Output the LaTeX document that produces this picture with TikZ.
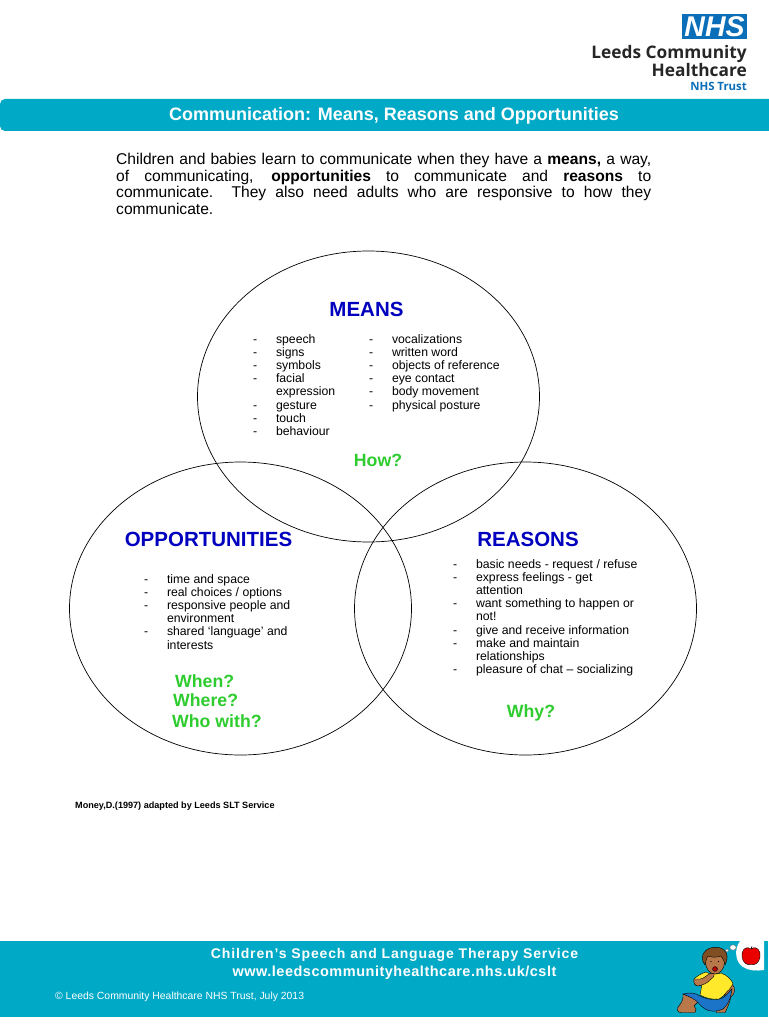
\documentclass[tikz,border=0pt]{standalone}
\usepackage{fontspec}
\setmainfont{Liberation Sans}
\newfontfamily\logofont{Open Sans}
\definecolor{teal}{HTML}{00A9C6}
\definecolor{nhsblue}{HTML}{0A6EB8}
\definecolor{headblue}{HTML}{0000BE}
\definecolor{qgreen}{HTML}{2ECC2E}
\definecolor{skin}{HTML}{B8784A}
\definecolor{hairc}{HTML}{7F4E22}
\definecolor{shirt}{HTML}{FFE92A}
\definecolor{shorts}{HTML}{1C74C8}
\tikzset{
  ring/.style={draw=black,line width=0.7pt,fill=none},
  band/.style={fill=teal,draw=none},
  listtxt/.style={anchor=base west,inner sep=0pt,outer sep=0pt,font=\fontsize{12.25}{13}\selectfont},
  headtxt/.style={anchor=base,inner sep=0pt,text=headblue,font=\fontsize{20.5}{22}\selectfont\bfseries},
  qtxt/.style={anchor=base,inner sep=0pt,text=qgreen,font=\fontsize{17.7}{19}\selectfont\bfseries},
  logotxt/.style={anchor=base east,inner sep=0pt,font=\logofont\fontsize{17.3}{20}\selectfont\bfseries,text=black!85},
  bandtxt/.style={anchor=base,inner sep=0pt,text=white,font=\bfseries},
  bodypart/.style={draw=black,line width=0.4pt}
}
\newcommand{\listcol}[3]{%
  \foreach \t [count=\i from 0] in {#3} {
    \node[listtxt] at (#1,#2+\i*13.2) {\t};
  }}
\begin{document}
\begin{tikzpicture}[x=1pt,y=-1pt]
\useasboundingbox (0,0) rectangle (768,1024);
\fill[white] (0,0) rectangle (768,1024);

% logo
\fill[nhsblue] (682,14) rectangle (747,39);
\node[anchor=center,inner sep=0pt,text=white,font=\fontsize{28.5}{29}\selectfont\bfseries\itshape] (nhs) at (714.5,27) {NHS};
\node[logotxt] (l1) at (747,59) {Leeds Community};
\node[logotxt] (l2) at (747,77) {Healthcare};
\node[anchor=base east,inner sep=0pt,text=nhsblue,font=\logofont\fontsize{11.4}{14}\selectfont\bfseries] (l3) at (747,91) {NHS Trust};

% header band
\fill[band,rounded corners=5pt] (0,99) rectangle (790,131);
\node[bandtxt,font=\fontsize{18}{20}\selectfont\bfseries] (title) at (394,120.5) {Communication: Means, Reasons and Opportunities};

% intro
\node[anchor=north west,inner sep=0pt,text width=535pt,align=justify,font=\fontsize{15.6}{16.7}\selectfont] (intro) at (116,153)
{Children and babies learn to communicate when they have a \textbf{means,} a way,\linebreak
of communicating, \textbf{opportunities} to communicate and \textbf{reasons} to\linebreak
communicate.\ \ They also need adults who are responsive to how they\linebreak
communicate.};

% circles
\draw[ring] (368.5,396.5) ellipse[x radius=171,y radius=145.5];
\draw[ring] (240.5,608.5) ellipse[x radius=171,y radius=146.5];
\draw[ring] (525.5,608.5) ellipse[x radius=171,y radius=146.5];

% means
\node[headtxt] (means) at (366.5,316) {MEANS};
\listcol{253}{343}{-,-,-,-,,-,-,-}
\listcol{276}{343}{speech,signs,symbols,facial,expression,gesture,touch,behaviour}
\listcol{369}{343}{-,-,-,-,-,-}
\listcol{392}{343}{vocalizations,written word,objects of reference,eye contact,body movement,physical posture}
\node[qtxt] (how) at (378,466) {How?};

% opportunities
\node[headtxt] (opp) at (208.5,546) {OPPORTUNITIES};
\listcol{144}{583}{-,-,-,,-,}
\listcol{167}{583}{time and space,real choices / options,responsive people and,environment,shared ‘language’ and,interests}
\node[qtxt,anchor=base west] (when) at (175,687) {When?};
\node[qtxt,anchor=base west] (where) at (173,706) {Where?};
\node[qtxt,anchor=base west] (who) at (172,727) {Who with?};

% reasons
\node[headtxt] (reasons) at (528,546) {REASONS};
\listcol{453}{568}{-,-,,-,,-,-,,-}
\listcol{476}{568}{basic needs - request / refuse,express feelings - get,attention,want something to happen or,not!,give and receive information,make and maintain,relationships,pleasure of chat – socializing}
\node[qtxt] (why) at (531,717) {Why?};

% citation
\node[anchor=base west,inner sep=0pt,font=\fontsize{9.1}{10}\selectfont\bfseries] (cite) at (75,808) {Money,D.(1997) adapted by Leeds SLT Service};

% footer band
\fill[band] (0,941) rectangle (768,1017);
\node[bandtxt,font=\fontsize{14}{16}\selectfont\bfseries\addfontfeatures{LetterSpace=6.2}] (f1) at (394.5,958) {Children’s Speech and Language Therapy Service};
\node[bandtxt,font=\fontsize{14.5}{16}\selectfont\bfseries\addfontfeatures{LetterSpace=3.5}] (f2) at (394.5,976) {www.leedscommunityhealthcare.nhs.uk/cslt};
\node[anchor=base west,inner sep=0pt,text=white,font=\fontsize{10.4}{12}\selectfont] (f3) at (55,999) {© Leeds Community Healthcare NHS Trust, July 2013};

% thought bubble
\fill[white] (740,941) .. controls (734,949) and (735,962) .. (743,967) .. controls (749,971) and (757,971) .. (764,970) -- (764,941) -- cycle;
\draw[fill=white,draw=black!50,line width=0.4pt] (733,947.5) ellipse[x radius=3.2,y radius=2.6];
\draw[fill=white,draw=black!50,line width=0.3pt] (727,950.5) circle (1.6);
\draw[bodypart,fill=red!92!black] (751,949) .. controls (757,945) and (761,951) .. (760,957) .. controls (759,963) and (755,965.5) .. (751,964.5) .. controls (747,965.5) and (743,963) .. (742,957) .. controls (741,951) and (745,945) .. (751,949) -- cycle;
\draw[line width=0.8pt] (751,949) -- (752,946.5);

% boy: legs and shorts
\draw[bodypart,fill=skin] (683,994) .. controls (684,1001) and (680,1004) .. (677.5,1008) .. controls (677,1012) and (679,1012.5) .. (682,1012.5) -- (695,1012.5) .. controls (697,1010) and (696,1008) .. (694,1006) -- (700,1000) -- cycle;
\draw[bodypart,fill=skin] (727,990) -- (732,984) .. controls (736,988) and (735,994) .. (731,997) .. controls (729,1004) and (727,1009) .. (725,1012.5) -- (716,1012.5) .. controls (716,1009) and (720,1006) .. (722,1002) -- cycle;
\draw[bodypart,fill=shorts] (683,994) .. controls (690,992) and (696,993) .. (700,996) .. controls (708,1000) and (718,1001) .. (724,997) .. controls (728,994) and (730,990) .. (732,989) .. controls (731,998) and (728,1005) .. (723,1009) .. controls (717,1012) and (710,1012) .. (705,1009) .. controls (700,1006) and (698,1001) .. (692,998) -- cycle;
% shirt
\draw[bodypart,fill=shirt] (706,972) .. controls (709,974) and (714,975) .. (721,973) .. controls (727,975) and (732,980) .. (733,984) -- (729,990) .. controls (727,990) and (725,996) .. (719,999) .. controls (713,1000) and (705,998) .. (700,995) .. controls (701,990) and (702,986) .. (701,983) -- (696,985) -- (694,979) .. controls (697,976) and (702,973) .. (706,972) -- cycle;
% arm
\draw[bodypart,fill=skin] (694,979) .. controls (693,983) and (695,986) .. (698,986) .. controls (703,985) and (708,983) .. (711,979) .. controls (714,977) and (715,975) .. (714,973) -- (709,974) .. controls (706,976) and (703,979) .. (700,979) .. controls (698,979) and (696,979) .. (694,979) -- cycle;
% head
\draw[bodypart,fill=skin] (715,962) ellipse[x radius=9.5,y radius=12];
\draw[bodypart,fill=hairc] (705,965) .. controls (701,961) and (702,953) .. (705,951.5) .. controls (708,947) and (719,945.5) .. (724,950) .. controls (728,953) and (728,960) .. (725,965) .. controls (724,961) and (723,958) .. (721,956) .. controls (716,958) and (710,957) .. (708,956) .. controls (706,958) and (706,962) .. (705,965) -- cycle;
\fill[black] (711,961.5) circle (0.7) (718.5,961.5) circle (0.7);
\draw[fill=red!70!black,line width=0.4pt] (715,969) ellipse[x radius=2.5,y radius=2.4];
\end{tikzpicture}
\end{document}
